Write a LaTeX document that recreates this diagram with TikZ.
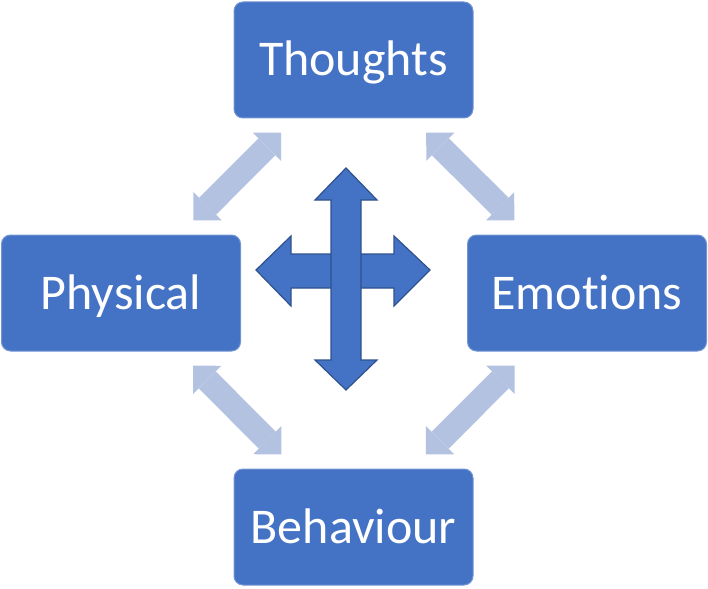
\documentclass[tikz,border=0pt]{standalone}
\usepackage{fontspec}
\setmainfont{Carlito}[Ligatures=NoCommon]
\usetikzlibrary{arrows.meta}
\definecolor{boxblue}{HTML}{4472C4}
\definecolor{edgeblue}{HTML}{2F528F}
\definecolor{paleblue}{HTML}{B4C2E2}

\begin{document}
\begin{tikzpicture}[
        x=1pt, y=-1pt,
        stage/.style={rectangle, draw=boxblue!75!white, line width=1pt, rounded corners=9pt, fill=boxblue, text=white, font=\fontsize{50}{60}\selectfont, minimum width=239pt, minimum height=116pt, inner sep=0pt, text height=32pt, text depth=0pt},
        link/.style={paleblue, line width=24pt, {Triangle[width=40pt,length=20pt,line width=0pt]}-{Triangle[width=40pt,length=20pt,line width=0pt]}, shorten <=20pt, shorten >=20pt},
        cross/.style={fill=boxblue, draw=edgeblue, line width=1.2pt, line join=miter}
    ]
    \useasboundingbox (0,0) rectangle (708,588);

    % The four stages
    \node[stage] (thoughts) at (353.5,60) {Thoughts};
    \node[stage] (physical) at (121,293) {Physical};
    \node[stage] (emotions) at (587,293) {Emotions};
    \node[stage] (behaviour) at (353.5,527) {Behaviour};

    % Pale links between neighbouring stages
    \draw[link] (thoughts) -- (physical);
    \draw[link] (thoughts) -- (emotions);
    \draw[link] (physical) -- (behaviour);
    \draw[link] (emotions) -- (behaviour);

    % Central four-way arrow
    \draw[cross] (256,270) -- (291,236) -- (291,254) -- (394,254) -- (394,236) -- (430,270)
        -- (394,306) -- (394,288) -- (291,288) -- (291,306) -- cycle;
    \draw[cross] (346,168) -- (377,200) -- (361,200) -- (361,360) -- (377,360) -- (346,390)
        -- (315,360) -- (331,360) -- (331,200) -- (315,200) -- cycle;

\end{tikzpicture}
\end{document}
